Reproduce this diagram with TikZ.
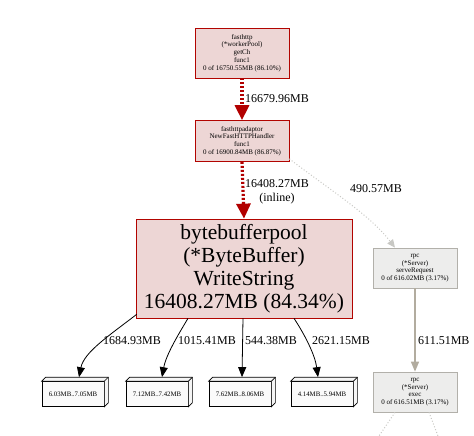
\documentclass[tikz,border=0pt]{standalone}
\usepackage{fontspec}
\setmainfont{Liberation Serif}
\usetikzlibrary{arrows.meta,calc}
\definecolor{hotfill}{HTML}{EDD6D5}
\definecolor{hotline}{HTML}{B20400}
\definecolor{hotedge}{HTML}{B20000}
\definecolor{coldfill}{HTML}{EDEDEC}
\definecolor{coldline}{HTML}{B2B0AA}
\definecolor{coldedge}{HTML}{B2AC9F}
\definecolor{faintedge}{HTML}{C8C8C4}
\begin{document}
\begin{tikzpicture}[x=1pt,y=-1pt,
  smalltext/.style={font=\fontsize{7}{7.8}\selectfont},
  hotnode/.style={draw=hotline, fill=hotfill, line width=0.7pt, align=center, inner sep=0pt},
  coldnode/.style={draw=coldline, fill=coldfill, line width=0.7pt, align=center, inner sep=0pt, smalltext, minimum width=84pt, minimum height=40pt},
  boxnode/.style={draw=black, fill=gray!4, line width=0.7pt, inner sep=0pt, minimum width=62pt, minimum height=25pt, font=\fontsize{6.8}{8}\selectfont},
  hotarrow/.style={draw=hotedge, line width=3.2pt, dash pattern=on 2pt off 2pt, -{Triangle[length=15pt,width=14pt]}},
  blackarrow/.style={draw=black, line width=0.8pt, -{Triangle[length=10pt,width=8pt]}},
  coldarrow/.style={draw=coldedge, line width=1.3pt, -{Triangle[length=10pt,width=8pt]}},
  faintarrow/.style={draw=faintedge, line width=1pt, dotted, -{Triangle[length=8pt,width=7pt]}},
  faintline/.style={draw=faintedge, line width=1pt, dotted},
  elabel/.style={font=\fontsize{12}{14}\selectfont, inner sep=0pt}
]
\useasboundingbox (0,0) rectangle (474,436);

% nodes
\node[hotnode, smalltext, minimum width=94pt, minimum height=50pt] (fh) at (242,53)
  {fasthttp\\(*workerPool)\\getCh\\func1\\0 of 16750.55MB (86.10\%)};
\node[hotnode, smalltext, minimum width=94pt, minimum height=41pt] (fa) at (242,141)
  {fasthttpadaptor\\NewFastHTTPHandler\\func1\\0 of 16900.84MB (86.87\%)};
\node[hotnode, font=\fontsize{21.5}{23}\selectfont, minimum width=216pt, minimum height=99pt] (bb) at (244,268.5)
  {bytebufferpool\\(*ByteBuffer)\\WriteString\\16408.27MB (84.34\%)};
\node[coldnode] (sr) at (415,268) {rpc\\(*Server)\\serveRequest\\0 of 616.02MB (3.17\%)};
\node[coldnode] (ex) at (415,392) {rpc\\(*Server)\\exec\\0 of 616.51MB (3.17\%)};

\node[boxnode] (b1) at (73,394) {6.03MB..7.05MB};
\node[boxnode] (b2) at (157,394) {7.12MB..7.42MB};
\node[boxnode] (b3) at (240,394) {7.62MB..8.06MB};
\node[boxnode] (b4) at (322,394) {4.14MB..5.94MB};
\foreach \b in {b1,b2,b3,b4}{
  \draw[line width=0.7pt, fill=gray!8] (\b.north west) -- ++(4,-4) -- ($(\b.north east)+(4,-4)$) -- ($(\b.south east)+(4,-4)$) -- (\b.south east) -- (\b.north east) -- cycle;
  \draw[line width=0.7pt] (\b.north east) -- ++(4,-4);
}

% hot edges
\draw[hotarrow] (fh.south) -- (fa.north);
\node[elabel, anchor=west] (l1) at (245,99) {16679.96MB};
\draw[hotarrow] (fa.south) -- (bb.north);
\node[elabel, align=center] (l2) at (277,192) {16408.27MB\\(inline)};

% cold edges
\draw[faintarrow] ($(fa.south east)+(0,-3)$) .. controls (330,190) and (370,215) .. ($(sr.north)+(-20,0)$);
\node[elabel, anchor=west] (l3) at (350,189) {490.57MB};
\draw[coldarrow] (sr.south) -- (ex.north);
\node[elabel, anchor=west] (l4) at (418,341) {611.51MB};
\coordinate (o1) at (379,436);
\coordinate (o2) at (438,436);
\draw[faintline] ($(ex.south)+(-20,0)$) -- (o1);
\draw[faintline] ($(ex.south)+(14,0)$) -- (o2);

% edges to boxes
\draw[blackarrow] ($(bb.south west)+(1,-4)$) .. controls (110,335) and (84,352) .. ($(b1.north)+(6,-4)$);
\node[elabel, anchor=west] (l5) at (103,341) {1684.93MB};
\draw[blackarrow] ($(bb.south)+(-56,0)$) .. controls (178,335) and (166,355) .. ($(b2.north)+(5,-4)$);
\node[elabel, anchor=west] (l6) at (178,341) {1015.41MB};
\draw[blackarrow] ($(bb.south)+(-1,0)$) -- ($(b3.north)+(2,-4)$);
\node[elabel, anchor=west] (l7) at (245,341) {544.38MB};
\draw[blackarrow] ($(bb.south)+(50,0)$) .. controls (305,335) and (315,355) .. ($(b4.north)+(-4,-4)$);
\node[elabel, anchor=west] (l8) at (312,341) {2621.15MB};
\end{tikzpicture}
\end{document}
